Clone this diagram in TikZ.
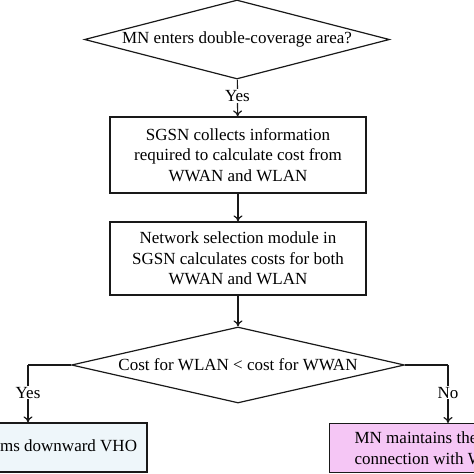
\documentclass[tikz,border=0pt]{standalone}
\usepackage{fontspec}
\setmainfont{Liberation Serif}
\usetikzlibrary{arrows.meta,shapes.geometric}
\definecolor{vhoblue}{HTML}{EEF6FA}
\definecolor{keeppink}{HTML}{F5C6F5}
\begin{document}
\begin{tikzpicture}[x=1pt,y=1pt,
  decision/.style={diamond,draw=black!90,line width=1.2pt,inner sep=0pt,font=\fontsize{17}{20.5}\selectfont},
  process/.style={draw=black!90,line width=1.2pt,align=center,minimum width=256pt,inner sep=0pt,font=\fontsize{17}{20.5}\selectfont},
  result/.style={draw=black!90,line width=1.2pt,minimum height=49pt,inner ysep=0pt,font=\fontsize{17}{20.5}\selectfont},
  arrow/.style={-{To[length=6pt,width=9pt]},line width=1.2pt,draw=black!90},
  answer/.style={fill=white,inner sep=1pt,font=\fontsize{17}{20.5}\selectfont}]
\useasboundingbox (0,0) rectangle (474,-474);
\clip (0,0) rectangle (474,-474);
\node[decision,aspect=3.86,minimum width=305pt,minimum height=79pt] (d1) at (237,-39.5) {MN enters double-coverage area?};
\node[process,minimum height=76pt] (b1) at (238,-155) {SGSN collects information\\required to calculate cost from\\WWAN and WLAN};
\node[process,minimum height=73pt] (b2) at (238,-258.5) {Network selection module in\\SGSN calculates costs for both\\WWAN and WLAN};
\node[decision,aspect=4.38,minimum width=333pt,minimum height=76pt] (d2) at (238,-365) {Cost for WLAN < cost for WWAN};
\node[result,fill=vhoblue,inner xsep=0pt,minimum width=230pt] (vho) at (32,-447.5) {MN performs downward VHO};
\node[result,fill=keeppink,inner xsep=25pt,align=left,anchor=north west] (keep) at (329,-423) {MN maintains the\\connection with WWAN};
\coordinate (yesturn) at (28,-365);
\coordinate (noturn) at (448,-365);
\draw[arrow] (d1) -- node[answer,pos=0.45] {Yes} (b1);
\draw[arrow] (b1) -- (b2);
\draw[arrow] (b2) -- (d2);
\draw[line width=1.2pt,draw=black!90] (d2.west) -- (yesturn);
\draw[arrow] (yesturn) -- node[answer,pos=0.48] {Yes} (yesturn |- vho.north);
\draw[line width=1.2pt,draw=black!90] (d2.east) -- (noturn);
\draw[arrow] (noturn) -- node[answer,pos=0.48] {No} (noturn |- keep.north);
\end{tikzpicture}
\end{document}
